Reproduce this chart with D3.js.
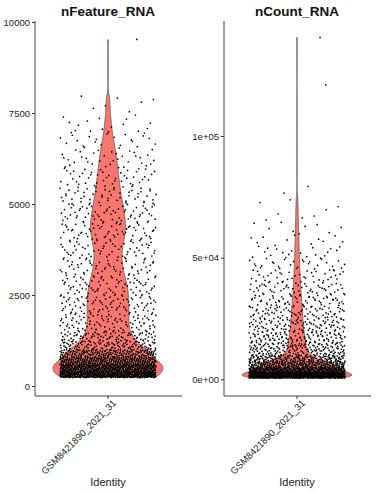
<!DOCTYPE html>
<html>
<head>
<meta charset="utf-8">
<script src="https://cdn.jsdelivr.net/npm/d3@7"></script>
<style>
  body { margin: 0; background: #fff; }
  svg text { font-family: "Liberation Sans", Arial, sans-serif; }
</style>
</head>
<body>
<div id="chart"></div>
<script>
// Data
//--------------------------
var identity = "GSM8421890_2021_31";

// nFeature_RNA: cell counts per value band, outliers, violin outline (relative density)
var featureEdges  = [230, 400, 600, 800, 1000, 1250, 1500, 2000, 2500, 3000, 3500, 4000, 4500, 5000, 5500, 6000, 6500, 7000, 7500, 8000];
var featureCounts = [460, 400, 270, 180, 110, 80, 95, 85, 75, 62, 62, 66, 64, 55, 45, 35, 25, 14, 7];
var featureOutliers = [9520];
var featureTicks = [0, 2500, 5000, 7500, 10000];
var featureTickLabels = ["0", "2500", "5000", "7500", "10000"];
var featureViolinValues  = [247, 350, 493, 600, 713, 850, 987, 1120, 1261, 1400, 1535, 1800, 2165, 2714, 3180, 3645, 4002, 4358, 4824, 5290, 5838, 6469, 6935, 7483, 7949, 8100, 8600, 9511];
var featureViolinDensity = [0.86, 0.96, 1.0, 0.97, 0.88, 0.8, 0.72, 0.6, 0.5, 0.44, 0.4, 0.38, 0.38, 0.355, 0.28, 0.255, 0.29, 0.32, 0.29, 0.236, 0.19, 0.136, 0.082, 0.045, 0.027, 0.006, 0.005, 0.005];

// nCount_RNA
var countEdges  = [500, 1500, 3000, 5000, 7500, 10000, 15000, 20000, 25000, 30000, 35000, 40000, 45000, 50000, 55000, 60000, 65000, 70000, 75000, 80000];
var countCounts = [420, 380, 290, 210, 140, 150, 110, 90, 75, 62, 52, 38, 30, 18, 12, 8, 5, 3, 2];
var countOutliers = [121000, 140500];
var countTicks = [0, 50000, 100000];
var countTickLabels = ["0e+00", "5e+04", "1e+05"];
var countViolinValues  = [800, 1767, 3822, 6700, 9165, 12040, 16150, 21500, 28500, 35500, 43700, 49000, 56000, 65500, 74500, 76500, 140500];
var countViolinDensity = [0.9, 1.0, 0.82, 0.6, 0.31, 0.19, 0.155, 0.118, 0.1, 0.073, 0.055, 0.045, 0.036, 0.024, 0.014, 0.004, 0.004];

//--------------------------
var W = 378, H = 493;
var svg = d3.select("#chart").append("svg").attr("width", W).attr("height", H);

// radical inverse (Halton) -> even, non-random spread of cells inside a band
function halton(i, base) {
    var f = 1, r = 0;
    while (i > 0) {
        f = f / base;
        r = r + f * (i % base);
        i = Math.floor(i / base);
    }
    return r;
}

function drawPanel(p) {
    var g = svg.append("g");
    var y = d3.scaleLinear().domain(p.domain).range(p.range);
    var w = d3.scaleLinear().domain([0, 1]).range([0, 55]);
    var jx = d3.scaleLinear().domain([0, 1]).range([p.cx - 48, p.cx + 48]);

    // violin
    var prof = p.vVals.map(function (v, i) { return { v: v, d: p.vDens[i] }; });
    var area = d3.area()
        .y(function (d) { return y(d.v); })
        .x0(function (d) { return p.cx - w(d.d); })
        .x1(function (d) { return p.cx + w(d.d); })
        .curve(d3.curveCatmullRom.alpha(0.5));
    g.append("path").datum(prof)
        .attr("d", area)
        .attr("fill", "#F8766D")
        .attr("stroke", "#555")
        .attr("stroke-width", 0.7);

    // jittered cells
    var pts = [];
    var n = p.seedStart;
    for (var b = 0; b < p.counts.length; b++) {
        var band = d3.scaleLinear().domain([0, 1]).range([p.edges[b], p.edges[b + 1]]);
        for (var i = 0; i < p.counts[b]; i++) {
            n++;
            pts.push({ x: jx(halton(n, 2)), v: band(halton(n, 3)) });
        }
    }
    p.outliers.forEach(function (v, i) {
        pts.push({ x: jx(i === 0 ? 0.8 : 0.74), v: v });
    });
    g.selectAll("circle.pt").data(pts).enter().append("circle")
        .attr("class", "pt")
        .attr("cx", function (d) { return d.x; })
        .attr("cy", function (d) { return y(d.v); })
        .attr("r", 0.85)
        .attr("fill", "#000");

    // y axis
    var yAxis = d3.axisLeft(y).tickValues(p.ticks)
        .tickFormat(function (d, i) { return p.tickLabels[i]; })
        .tickSize(3).tickPadding(2);
    var ga = g.append("g").attr("transform", "translate(" + p.axisX + ",0)").call(yAxis);
    ga.select(".domain").remove();
    ga.selectAll("line").attr("stroke", "#333");
    ga.selectAll("text").attr("font-size", "9.5px").attr("fill", "#222")
        .style("font-family", "Liberation Sans, Arial, sans-serif");
    g.append("line").attr("x1", p.axisX).attr("x2", p.axisX).attr("y1", 21).attr("y2", 396)
        .attr("stroke", "#444").attr("stroke-width", 1);

    // x axis
    g.append("line").attr("x1", p.axisX).attr("x2", p.xEnd).attr("y1", 396).attr("y2", 396)
        .attr("stroke", "#444").attr("stroke-width", 1);
    g.append("line").attr("x1", p.cx).attr("x2", p.cx).attr("y1", 396).attr("y2", 399)
        .attr("stroke", "#333");
    g.append("text")
        .attr("transform", "translate(" + (p.cx + 4) + ",399) rotate(-45)")
        .attr("text-anchor", "end").attr("dy", "0.7em")
        .attr("font-size", "9.5px").attr("fill", "#222")
        .text(identity);
    g.append("text").attr("x", p.cx).attr("y", 486)
        .attr("text-anchor", "middle").attr("font-size", "11px").attr("fill", "#222")
        .text("Identity");

    // title
    g.append("text").attr("x", p.cx).attr("y", 16)
        .attr("text-anchor", "middle").attr("font-size", "13.5px").attr("font-weight", "bold")
        .attr("fill", "#111")
        .text(p.title);
}

drawPanel({
    title: "nFeature_RNA", cx: 108, axisX: 35, xEnd: 182, seedStart: 17,
    domain: [0, 10000], range: [386, 22],
    edges: featureEdges, counts: featureCounts, outliers: featureOutliers,
    ticks: featureTicks, tickLabels: featureTickLabels,
    vVals: featureViolinValues, vDens: featureViolinDensity
});

drawPanel({
    title: "nCount_RNA", cx: 297, axisX: 224, xEnd: 371, seedStart: 5003,
    domain: [0, 100000], range: [379.3, 136],
    edges: countEdges, counts: countCounts, outliers: countOutliers,
    ticks: countTicks, tickLabels: countTickLabels,
    vVals: countViolinValues, vDens: countViolinDensity
});
</script>
</body>
</html>
